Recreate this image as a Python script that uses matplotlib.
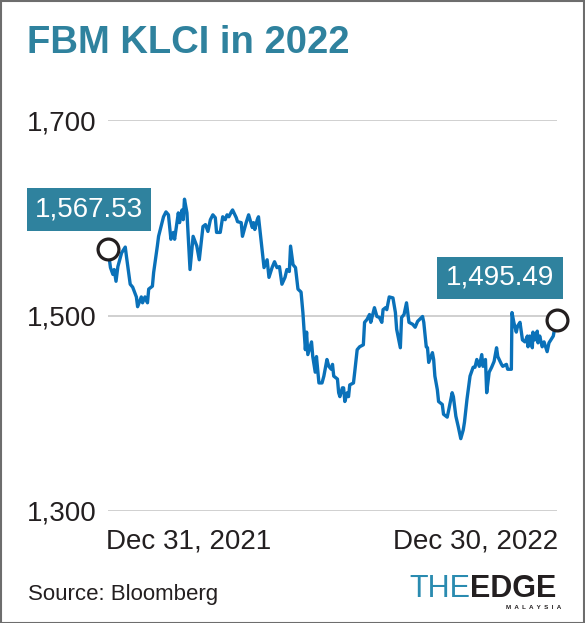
import matplotlib
matplotlib.use("Agg")
import matplotlib.pyplot as plt
from matplotlib.patches import Rectangle

plt.rcParams['font.family'] = ['Liberation Sans', 'DejaVu Sans']

# FBM KLCI closes, days counted from Dec 31, 2021
days = [0, 2, 4, 5, 6.5, 8, 11, 14, 15, 18, 20, 23, 24, 27, 28, 30, 32, 33, 36, 37,
        40, 41, 45, 47, 49, 51, 53, 54, 57, 58, 60, 61, 62, 64, 66.5, 69, 72, 74, 77, 79,
        81, 83, 85, 87, 88, 91, 93, 95, 96.5, 98, 100, 101, 104, 105, 108, 109, 112, 114, 117, 118,
        119, 121, 122, 125, 126.5, 129, 130.5, 133, 135, 137, 139, 141, 143.5, 145, 147, 148, 150, 152, 154, 156.5,
        158, 160, 161, 162, 165, 166, 168, 169, 171, 173.5, 175, 177.5, 179, 181, 182, 183, 186, 187, 188, 190,
        191, 192, 194, 195, 196, 199, 200, 202, 204, 207, 208, 210, 212, 213, 216, 218, 220, 222, 223, 225,
        226, 228, 231, 233, 234, 237, 238, 240, 242, 244, 247, 249, 251, 255, 256, 258, 259, 260, 263, 264,
        265, 267, 268, 271, 272, 275, 276, 279, 280, 282, 284, 286, 288, 289, 291, 293.5, 296, 297.5, 299, 301,
        303, 304, 306, 307, 309, 311, 313, 315, 316, 319, 320, 323, 324, 327, 327.5, 329, 331, 332, 334, 336,
        338, 340, 340.5, 342, 344, 344.5, 346, 348, 348.6, 350, 352, 353.5, 356, 357.5, 359, 361, 362, 364]
klci = [1567.53, 1549, 1542, 1547, 1535, 1550, 1564, 1570, 1560, 1532, 1529, 1519, 1509, 1519, 1513, 1519, 1513, 1527, 1530, 1544,
        1571, 1581, 1601, 1606, 1603, 1578, 1585, 1578, 1605, 1595, 1608, 1598, 1619, 1605, 1547, 1581, 1571, 1557, 1591, 1593,
        1586, 1598, 1603, 1600, 1585, 1585, 1601, 1598, 1603, 1601, 1606, 1608, 1600, 1596, 1595, 1581, 1595, 1603, 1590, 1595,
        1588, 1598, 1601, 1567, 1549, 1557, 1539, 1549, 1555, 1549, 1550, 1532, 1539, 1547, 1545, 1571, 1552, 1549, 1527, 1524,
        1503, 1465, 1483, 1460, 1473, 1458, 1442, 1458, 1431, 1431, 1438, 1455, 1448, 1445, 1450, 1438, 1435, 1421, 1417, 1426,
        1426, 1412, 1421, 1417, 1429, 1431, 1442, 1465, 1468, 1470, 1493, 1496, 1501, 1493, 1508, 1499, 1498, 1493, 1506, 1508,
        1506, 1519, 1518, 1503, 1486, 1467, 1498, 1501, 1513, 1493, 1491, 1488, 1494, 1499, 1493, 1468, 1467, 1452, 1462, 1455,
        1438, 1424, 1412, 1409, 1399, 1396, 1402, 1421, 1417, 1397, 1386, 1374, 1383, 1391, 1414, 1438, 1447, 1447, 1455, 1448,
        1460, 1448, 1455, 1421, 1442, 1447, 1453, 1467, 1458, 1450, 1448, 1450, 1445, 1445, 1503, 1493, 1483, 1489, 1493, 1475,
        1473, 1479, 1468, 1479, 1467, 1483, 1475, 1484, 1472, 1479, 1468, 1473, 1463, 1472, 1475, 1479, 1486, 1495.49]

yticks = [1300, 1500, 1700]
ytick_labels = ['1,300', '1,500', '1,700']
xtick_labels = ['Dec 31, 2021', 'Dec 30, 2022']

teal = '#2f829e'
blue = '#0a71b9'
dark = '#231f20'

W, H = 585, 623
fig = plt.figure(figsize=(W / 100, H / 100), dpi=100)
fig.patch.set_facecolor('white')
fig.add_artist(Rectangle((0.5 / W, 0.5 / H), 1 - 1.5 / W, 1 - 1.5 / H, transform=fig.transFigure,
                         fill=False, edgecolor='#6d6d6d', linewidth=1.5))

ax = fig.add_axes([108 / W, 1 - 511 / H, 449 / W, 391 / H])
ax.set_xlim(days[0], days[-1])
ax.set_ylim(1300, 1700)
for s in ax.spines.values():
    s.set_visible(False)
ax.set_yticks(yticks)
ax.set_yticklabels(ytick_labels, fontsize=20, color=dark)
ax.tick_params(axis='y', length=0, pad=8)
ax.set_xticks([])
ax.yaxis.grid(True, color='#d0d0d0', linewidth=1.4)
ax.set_axisbelow(True)

ax.plot(days, klci, color=blue, linewidth=2.4, solid_joinstyle='round', zorder=3)

# end-point markers
ax.plot([days[0], days[-1]], [klci[0], klci[-1]], 'o', markersize=15, markerfacecolor='white',
        markeredgecolor=dark, markeredgewidth=2.3, clip_on=False, zorder=5)

# value labels
def fmt(v):
    return f'{v:,.2f}'

ax.annotate(fmt(klci[0]), xy=(days[0], klci[0]), xytext=(-19, 40),
            textcoords='offset pixels', ha='center', va='center', fontsize=20, color='white',
            bbox=dict(boxstyle='square,pad=0.3', facecolor=teal, edgecolor='none'))
ax.annotate(fmt(klci[-1]), xy=(days[-1], klci[-1]), xytext=(-57, 42),
            textcoords='offset pixels', ha='center', va='center', fontsize=20, color='white',
            bbox=dict(boxstyle='square,pad=0.3', facecolor=teal, edgecolor='none'))

# x labels at first and last date
ax.text(days[0] - 2, -0.095, xtick_labels[0], transform=ax.get_xaxis_transform(),
        ha='left', va='baseline', fontsize=20, color=dark)
ax.text(days[-1] + 1, -0.095, xtick_labels[1], transform=ax.get_xaxis_transform(),
        ha='right', va='baseline', fontsize=20, color=dark)

fig.text(27 / W, 1 - 53 / H, 'FBM KLCI in 2022', fontsize=27.5, fontweight='bold', color=teal,
         ha='left', va='baseline')
fig.text(28 / W, 1 - 600 / H, 'Source: Bloomberg', fontsize=16, color=dark,
         ha='left', va='baseline')

# logo
fig.text(470 / W, 1 - 597 / H, 'THE', fontsize=22, color='#2a8bb0', ha='right', va='baseline',
         fontweight='light', fontstretch='condensed')
fig.text(470 / W, 1 - 597 / H, 'EDGE', fontsize=22, color=dark, ha='left', va='baseline',
         fontweight='heavy')
fig.text(561 / W, 1 - 609 / H, 'M  A  L  A  Y  S  I  A', fontsize=4.5, color=dark, ha='right',
         va='baseline', fontweight='bold')

fig.savefig('out.png', dpi=100)
